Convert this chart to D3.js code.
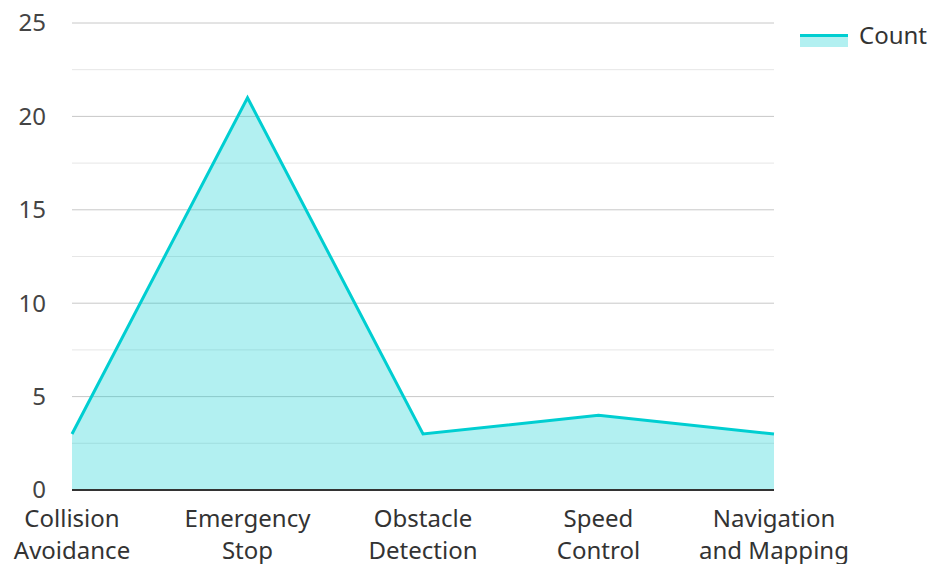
<!DOCTYPE html>
<html>
<head>
<meta charset="utf-8">
<script src="https://cdn.jsdelivr.net/npm/d3@7"></script>
<style>
  html, body { margin: 0; padding: 0; background: #fff; }
  svg { display: block; font-family: "Noto Sans", "Open Sans", sans-serif; }
</style>
</head>
<body>
<svg id="chart" width="932" height="564"></svg>
<script>
// Feature request counts per category
const categories = [["Collision", "Avoidance"], ["Emergency", "Stop"], ["Obstacle", "Detection"], ["Speed", "Control"], ["Navigation", "and Mapping"]];
const counts = [3, 21, 3, 4, 3];
const yTicks = [0, 5, 10, 15, 20, 25];
const yMinorTicks = [2.5, 7.5, 12.5, 17.5, 22.5];
const seriesName = "Count";

const lineColor = "#00ced1";
const fillColor = "rgba(0, 206, 209, 0.3)";

const svg = d3.select("#chart");
const margin = { left: 72, right: 158, top: 23, bottom: 74 };
const width = 932, height = 564;

const x = d3.scalePoint()
  .domain(d3.range(categories.length))
  .range([margin.left, width - margin.right]);
const y = d3.scaleLinear()
  .domain([0, 25])
  .range([height - margin.bottom, margin.top]);

// Minor gridlines
svg.append("g").selectAll("line").data(yMinorTicks).join("line")
  .attr("x1", margin.left).attr("x2", width - margin.right)
  .attr("y1", d => y(d)).attr("y2", d => y(d))
  .attr("stroke", "#e6e6e6").attr("stroke-width", 1);

// Major gridlines
svg.append("g").selectAll("line").data(yTicks.filter(d => d > 0)).join("line")
  .attr("x1", margin.left).attr("x2", width - margin.right)
  .attr("y1", d => y(d)).attr("y2", d => y(d))
  .attr("stroke", "#c8c8c8").attr("stroke-width", 1);

// Y tick labels
svg.append("g").selectAll("text").data(yTicks).join("text")
  .attr("x", 46).attr("y", d => y(d))
  .attr("dy", "0.35em")
  .attr("text-anchor", "end")
  .attr("font-size", 24)
  .attr("fill", "#444")
  .text(d => d);

// Area and line
const area = d3.area()
  .x((d, i) => x(i))
  .y0(y(0))
  .y1(d => y(d));
const line = d3.line()
  .x((d, i) => x(i))
  .y(d => y(d));

svg.append("path").datum(counts)
  .attr("d", area)
  .attr("fill", fillColor);

svg.append("path").datum(counts)
  .attr("d", line)
  .attr("fill", "none")
  .attr("stroke", lineColor)
  .attr("stroke-width", 3)
  .attr("stroke-linejoin", "miter");

// Baseline
svg.append("line")
  .attr("x1", margin.left).attr("x2", width - margin.right)
  .attr("y1", y(0)).attr("y2", y(0))
  .attr("stroke", "#333").attr("stroke-width", 2);

// X category labels (two lines each)
const xl = svg.append("g").selectAll("text").data(categories).join("text")
  .attr("text-anchor", "middle")
  .attr("font-size", 24)
  .attr("fill", "#333");
xl.each(function(d, i) {
  const t = d3.select(this);
  d.forEach((ln, j) => {
    t.append("tspan")
      .attr("x", x(i))
      .attr("y", 527 + j * 32)
      .text(ln);
  });
});

// Legend
const lg = svg.append("g");
lg.append("rect")
  .attr("x", 800).attr("y", 35).attr("width", 48).attr("height", 12)
  .attr("fill", fillColor);
lg.append("line")
  .attr("x1", 800).attr("x2", 848).attr("y1", 35.5).attr("y2", 35.5)
  .attr("stroke", lineColor).attr("stroke-width", 3);
lg.append("text")
  .attr("x", 859).attr("y", 44)
  .attr("font-size", 24)
  .attr("fill", "#333")
  .text(seriesName);
</script>
</body>
</html>
